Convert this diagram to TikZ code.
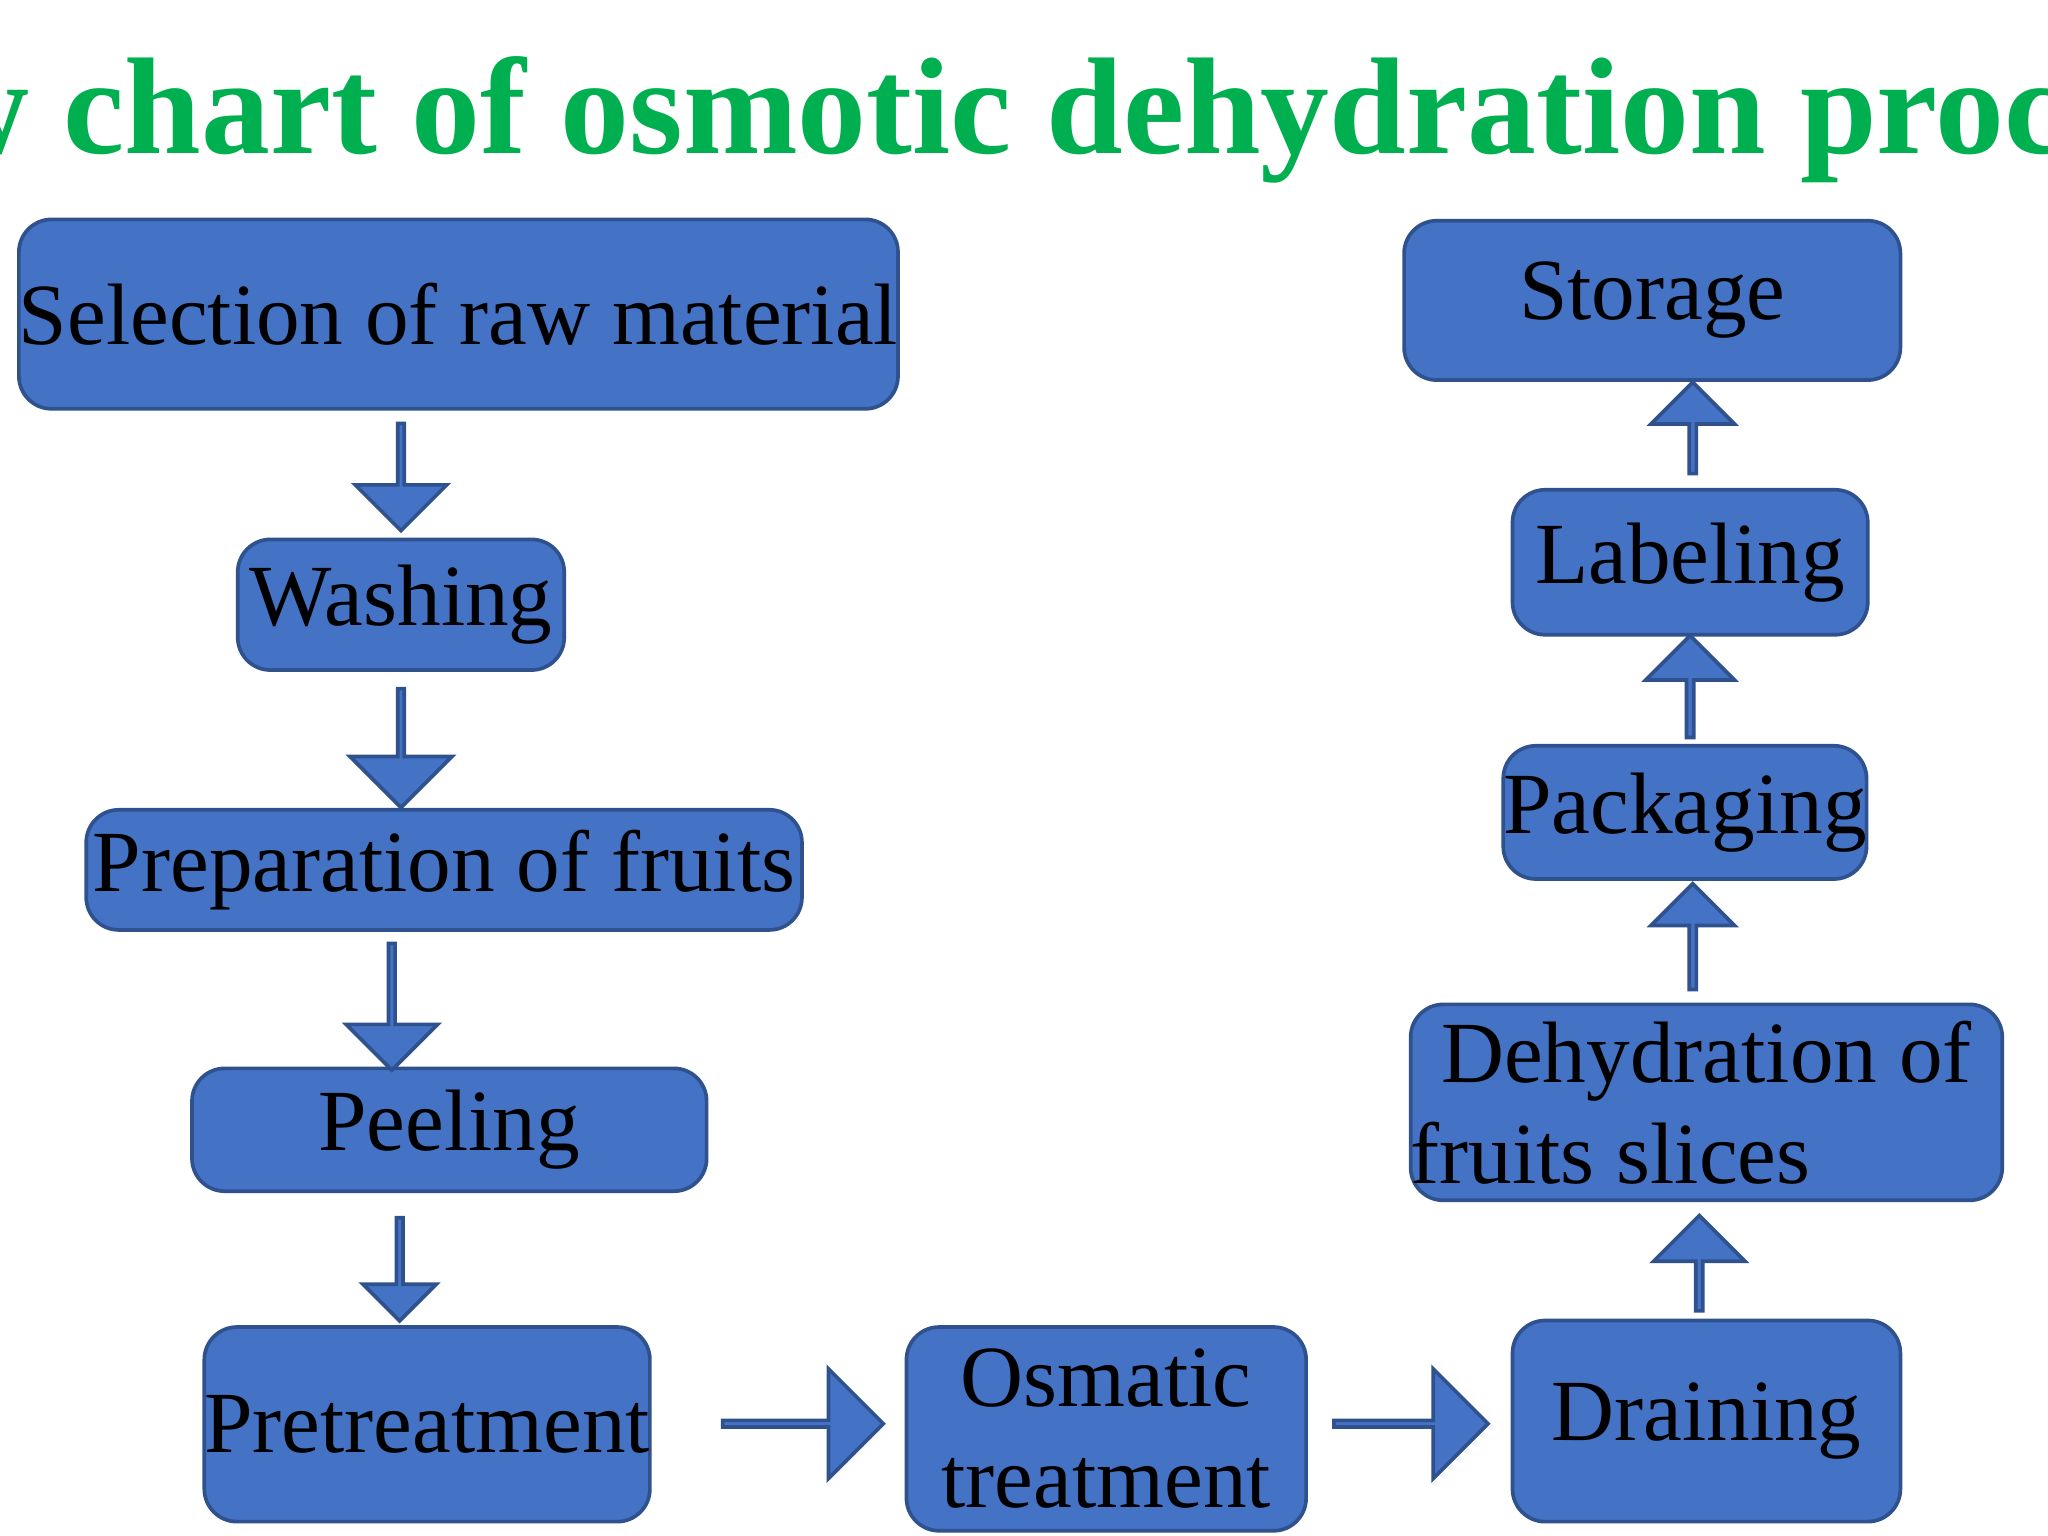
\documentclass[tikz,border=0pt]{standalone}
\usepackage{fontspec}
\setmainfont{Liberation Serif}
\usetikzlibrary{shapes.arrows, positioning}
\definecolor{boxblue}{HTML}{4472C4}
\definecolor{boxline}{HTML}{2F528F}
\definecolor{titlegreen}{HTML}{00B050}
\tikzset{
	stage/.style = {rectangle, rounded corners = 0.25cm, draw = boxline, fill = boxblue, line width = 0.8pt, text = black, align = center, inner sep = 0pt, font = {\fontsize{19pt}{22pt}\selectfont}},
	blk/.style = {single arrow, draw = boxline, fill = boxblue, line width = 0.8pt, inner sep = 0pt, single arrow head indent = 0pt},
	down/.style = {blk, shape border rotate = 270},
	up/.style = {blk, shape border rotate = 90}
}
% box from corner to corner (units of 1/100 cm)
\newcommand{\stagebox}[6]{\node (#1) [stage, minimum width = {(#4-#2)*0.1mm}, minimum height = {(#5-#3)*0.1mm}] at ({(#2+#4)/200}, {-(#3+#5)/200}) {#6};}

\begin{document}
\begin{tikzpicture}
	\useasboundingbox [fill = white] (0,0) rectangle (15.68,-11.76);
	
	%%%%%%%% title %%%%%%%%
	\node (title) [text = titlegreen, font = {\bfseries\fontsize{30pt}{34pt}\selectfont}] at (7.55,-0.92) {Flow chart of osmotic dehydration process};
	
	%%%%%%%% stages %%%%%%%%
	\stagebox{select}{52}{168}{650}{313}{Selection of raw material}
	\stagebox{wash}{182}{413}{432}{513}{Washing}
	\stagebox{prep}{66}{620}{614}{712}{Preparation of fruits}
	\stagebox{peel}{147}{818}{541}{912}{Peeling}
	\stagebox{pretreat}{157}{1016}{497}{1165}{Pretreatment}
	\stagebox{osmatic}{694}{1016}{1000}{1172}{Osmatic\\treatment}
	\stagebox{drain}{1158}{1011}{1455}{1165}{Draining}
	\stagebox{dehyd}{1117}{769}{1496}{919}{Dehydration of\\fruits slices\hspace*{2.2em}}
	\stagebox{pack}{1154}{571}{1426}{673}{Packaging}
	\stagebox{label}{1158}{375}{1430}{486}{Labeling}
	\stagebox{store}{1075}{169}{1455}{291}{Storage}
	
	%%%%%%%% block arrows %%%%%%%%
	\node (a1) [down, minimum height = 0.82cm, minimum width = 0.70cm, single arrow head extend = 0.18cm] at (3.07,-3.64) {};
	\node (a2) [down, minimum height = 0.91cm, minimum width = 0.78cm, single arrow head extend = 0.21cm] at (3.07,-5.715) {};
	\node (a3) [down, minimum height = 0.97cm, minimum width = 0.70cm, single arrow head extend = 0.18cm] at (3.00,-7.695) {};
	\node (a4) [down, minimum height = 0.79cm, minimum width = 0.56cm, single arrow head extend = 0.14cm] at (3.06,-9.705) {};
	\node (a5) [blk, minimum height = 1.23cm, minimum width = 0.84cm, single arrow head extend = 0.22cm] at (6.135,-10.90) {};
	\node (a6) [blk, minimum height = 1.18cm, minimum width = 0.84cm, single arrow head extend = 0.22cm] at (10.79,-10.90) {};
	\node (a7) [up, minimum height = 0.73cm, minimum width = 0.70cm, single arrow head extend = 0.17cm] at (13.01,-9.685) {};
	\node (a8) [up, minimum height = 0.81cm, minimum width = 0.64cm, single arrow head extend = 0.15cm] at (12.96,-7.185) {};
	\node (a9) [up, minimum height = 0.78cm, minimum width = 0.68cm, single arrow head extend = 0.16cm] at (12.94,-5.27) {};
	\node (a10) [up, minimum height = 0.70cm, minimum width = 0.64cm, single arrow head extend = 0.15cm] at (12.96,-3.29) {};
\end{tikzpicture}
\end{document}
